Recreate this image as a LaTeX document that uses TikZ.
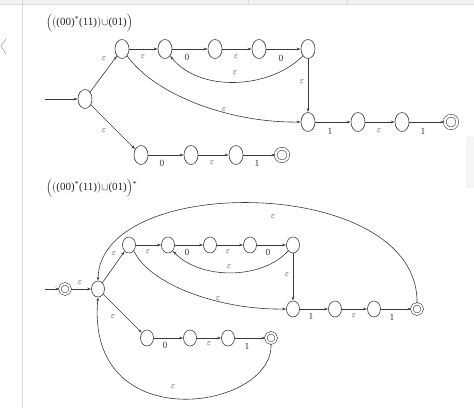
\documentclass[tikz,border=0pt]{standalone}
\usepackage{fontspec}
\setmainfont{Liberation Serif}
\usetikzlibrary{shapes.geometric,arrows.meta}
\definecolor{lc}{HTML}{3A3A3A}
\begin{document}
\begin{tikzpicture}[x=1pt,y=-1pt,
  stt/.style={draw=lc, ellipse, minimum width=14pt, minimum height=19pt, inner sep=0pt, line width=0.6pt},
  sts/.style={stt, minimum width=13pt, minimum height=16pt},
  acc/.style={draw=lc, circle, minimum size=12.5pt, inner sep=0pt, double=white, double distance=2.2pt, line width=0.55pt},
  accs/.style={acc, minimum size=10.5pt, double distance=1.8pt},
  arr/.style={draw=lc, line width=0.6pt, -{Stealth[length=4pt,width=2.6pt]}},
  lbl/.style={inner sep=0pt, font=\fontsize{9.5}{10}\selectfont, text=lc},
  ttl/.style={inner sep=0pt, anchor=west, font=\fontsize{11}{12}\selectfont, text=black!85},
  ui/.style={draw=black!15, line width=0.6pt}
]
\useasboundingbox (0,0) rectangle (474,412);
% screen frame
\fill[black!5] (0,0) rectangle (474,4);
\draw[ui] (0,4) -- (474,4);
\draw[ui] (22,0) -- (22,408);
\draw[ui] (248,0) -- (248,4);
\draw[ui] (347,0) -- (347,4);
\draw[draw=black!35, line width=0.6pt] (6,39) -- (1,46) -- (6,54);
\filldraw[fill=black!4, draw=black!15, rounded corners=2pt] (467,137) rectangle (480,187);

% ---------- top automaton ----------
\node[ttl] (T1) at (46,23) {$\Big($$\big($(00)\textsuperscript{*}(11)$\big)$$\cup$(01)$\Big)$};
\node[stt] (A) at (85,99) {};
\node[stt] (B) at (122,49) {};
\node[stt] (C) at (165,49) {};
\node[stt] (D) at (215,49) {};
\node[stt] (E) at (259,49) {};
\node[stt] (F) at (308,49) {};
\node[stt] (G) at (308,122) {};
\node[stt] (H) at (358,122) {};
\node[stt] (I) at (402,122) {};
\node[acc] (J) at (451,122) {};
\node[stt] (K) at (141,155) {};
\node[stt] (L) at (191,155) {};
\node[stt] (M) at (236,155) {};
\node[acc] (N) at (282,155) {};
\coordinate (in1) at (45,99);

\draw[arr] (in1) -- (A);
\draw[arr] (A) -- (B);
\draw[arr] (A) -- (K);
\draw[arr] (B) -- (C);
\draw[arr] (C) -- (D);
\draw[arr] (D) -- (E);
\draw[arr] (E) -- (F);
\draw[arr] (F.south west) .. controls (270,89) and (200,93) .. (C.south east);
\draw[arr] (F) -- (G);
\draw[arr] (B.south east) .. controls (155,95) and (230,123) .. (G.west);
\draw[arr] (G) -- (H);
\draw[arr] (H) -- (I);
\draw[arr] (I) -- (J);
\draw[arr] (K) -- (L);
\draw[arr] (L) -- (M);
\draw[arr] (M) -- (N);

\node[lbl] (t1) at (104,59) {$\varepsilon$};
\node[lbl] (t2) at (104,131) {$\varepsilon$};
\node[lbl] (t3) at (143,57) {$\varepsilon$};
\node[lbl] (t4) at (187,57) {0};
\node[lbl] (t5) at (236,57) {$\varepsilon$};
\node[lbl] (t6) at (281,58) {0};
\node[lbl] (t7) at (235,73) {$\varepsilon$};
\node[lbl] (t8) at (302,82) {$\varepsilon$};
\node[lbl] (t9) at (224,110) {$\varepsilon$};
\node[lbl] (t10) at (330,131) {1};
\node[lbl] (t11) at (379,131) {$\varepsilon$};
\node[lbl] (t12) at (423,131) {1};
\node[lbl] (t13) at (162,163) {0};
\node[lbl] (t14) at (212,163) {$\varepsilon$};
\node[lbl] (t15) at (257,163) {1};

% ---------- bottom automaton ----------
\node[ttl] (T2) at (46,188) {$\Big($$\big($(00)\textsuperscript{*}(11)$\big)$$\cup$(01)$\Big)$\textsuperscript{*}};
\node[accs] (S) at (65,289) {};
\node[sts] (A2) at (98,289) {};
\node[sts] (B2) at (129,245) {};
\node[sts] (C2) at (168,245) {};
\node[sts] (D2) at (210,245) {};
\node[sts] (E2) at (250,245) {};
\node[sts] (F2) at (293,245) {};
\node[sts] (G2) at (293,309) {};
\node[sts] (H2) at (335,309) {};
\node[sts] (I2) at (374,309) {};
\node[accs] (J2) at (417,309) {};
\node[sts] (K2) at (147,338) {};
\node[sts] (L2) at (190,338) {};
\node[sts] (M2) at (228,338) {};
\node[accs] (N2) at (271,338) {};
\coordinate (in2) at (45,289);

\draw[arr] (in2) -- (S);
\draw[arr] (S) -- (A2);
\draw[arr] (A2) -- (B2);
\draw[arr] (A2) -- (K2);
\draw[arr] (B2) -- (C2);
\draw[arr] (C2) -- (D2);
\draw[arr] (D2) -- (E2);
\draw[arr] (E2) -- (F2);
\draw[arr] (F2.south west) .. controls (262,280) and (200,280) .. (C2.south east);
\draw[arr] (F2) -- (G2);
\draw[arr] (B2.south east) .. controls (150,285) and (220,310) .. (G2.west);
\draw[arr] (G2) -- (H2);
\draw[arr] (H2) -- (I2);
\draw[arr] (I2) -- (J2);
\draw[arr] (K2) -- (L2);
\draw[arr] (L2) -- (M2);
\draw[arr] (M2) -- (N2);
\draw[arr] (J2.north) .. controls (420,175) and (100,172) .. (A2.north);
\draw[arr] (N2.south) .. controls (275,410) and (85,440) .. (A2.south);

\node[lbl] (b1) at (80,283) {$\varepsilon$};
\node[lbl] (b2) at (114,254) {$\varepsilon$};
\node[lbl] (b3) at (148,252) {$\varepsilon$};
\node[lbl] (b4) at (187,252) {0};
\node[lbl] (b5) at (228,252) {$\varepsilon$};
\node[lbl] (b6) at (268,252) {0};
\node[lbl] (b7) at (229,267) {$\varepsilon$};
\node[lbl] (b8) at (287,275) {$\varepsilon$};
\node[lbl] (b9) at (218,299) {$\varepsilon$};
\node[lbl] (b10) at (273,217) {$\varepsilon$};
\node[lbl] (b11) at (311,316) {1};
\node[lbl] (b12) at (354,316) {$\varepsilon$};
\node[lbl] (b13) at (392,317) {1};
\node[lbl] (b14) at (113,317) {$\varepsilon$};
\node[lbl] (b15) at (165,345) {0};
\node[lbl] (b16) at (209,344) {$\varepsilon$};
\node[lbl] (b17) at (247,346) {1};
\node[lbl] (b18) at (173,387) {$\varepsilon$};
\end{tikzpicture}
\end{document}
